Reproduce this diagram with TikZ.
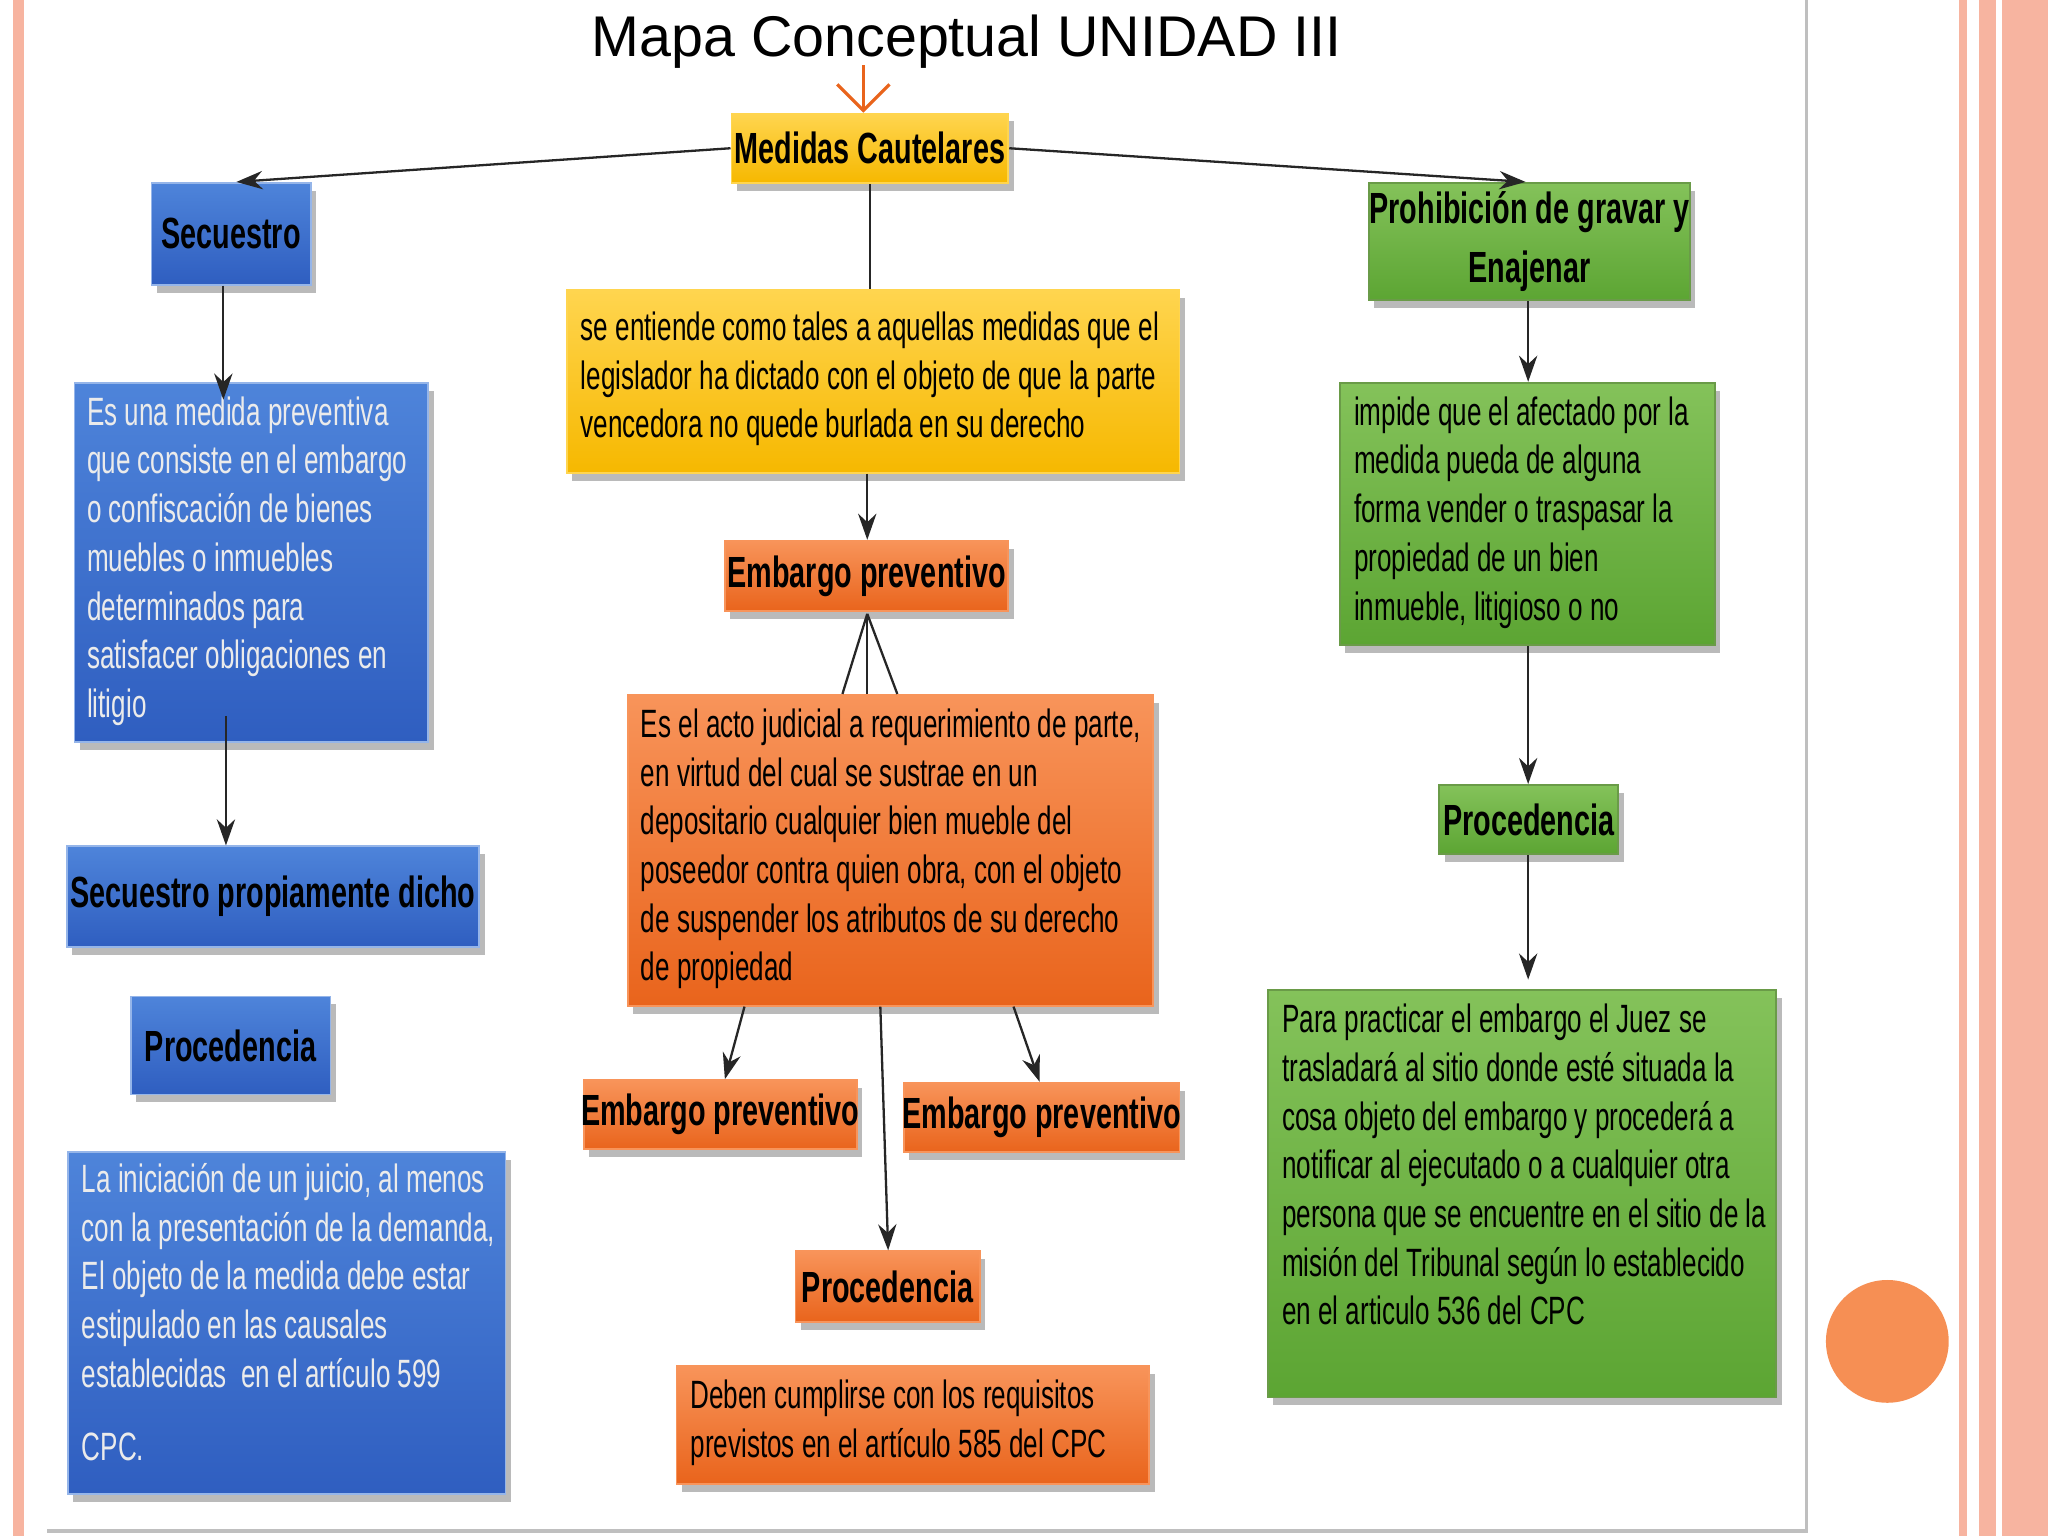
\documentclass[tikz,border=0pt]{standalone}
\usepackage{fontspec}
\setmainfont{Liberation Sans}
\newfontfamily\narrow[FakeStretch=0.66]{Liberation Sans}
\usetikzlibrary{shadows,arrows.meta}
\definecolor{bluA}{HTML}{4E84DA}\definecolor{bluB}{HTML}{2F5EC0}
\definecolor{yelA}{HTML}{FFD54F}\definecolor{yelB}{HTML}{F6B800}
\definecolor{orA}{HTML}{F8945A}\definecolor{orB}{HTML}{E9641C}
\definecolor{grA}{HTML}{84C25A}\definecolor{grB}{HTML}{5CA533}
\definecolor{pinkS}{HTML}{F7B4A0}
\tikzset{
 bx/.style={inner sep=0pt,drop shadow={shadow xshift=0.4mm,shadow yshift=-0.6mm,fill=black!45,opacity=0.6}},
 bl/.style={bx,top color=bluA,bottom color=bluB,draw=bluA!60},
 ye/.style={bx,top color=yelA,bottom color=yelB,draw=yelA},
 orr/.style={bx,top color=orA,bottom color=orB,draw=orA},
 gr/.style={bx,top color=grA,bottom color=grB,draw=grA!80!black},
 ttl/.style={font=\narrow\bfseries\fontsize{9.5}{13}\selectfont,align=center},
 txt/.style={font=\narrow\fontsize{8.6}{10.6}\selectfont,align=left,anchor=north west,inner sep=0pt},
 ar/.style={-{Stealth[length=2mm,width=1.4mm]},black!85,line width=0.5pt},
 ln/.style={black!85,line width=0.5pt}
}
\newcommand{\bxn}[6]{\node[#1,minimum width=#4*0.01cm-#2*0.01cm,minimum height=#5*0.01cm-#3*0.01cm] (#6) at ({(#2+#4)/2},{(#3+#5)/2}) {};}
\begin{document}
\begin{tikzpicture}[x=0.01cm,y=-0.01cm]
\useasboundingbox (0,0) rectangle (1568,1176);
\fill[white] (0,0) rectangle (1568,1176);
% decoration
\fill[pinkS] (10,0) rectangle (18,1176);
\fill[pinkS] (1500,0) rectangle (1506,1176);
\fill[pinkS] (1515,0) rectangle (1568,1176);
\fill[white] (1528,0) rectangle (1533,1176);
\draw[black!25,line width=0.8pt] (1383,0) -- (1383,1172) -- (36,1172);
\node[circle,fill=orange!80!red!90,fill=orA!90!orB,minimum size=94*0.01cm,inner sep=0pt] (circ) at (1445,1027) {};
% title
\node[font=\fontsize{12.5}{14}\selectfont] (title) at (740,32) {Mapa Conceptual UNIDAD III};
\coordinate (tarr) at (661,50);
% boxes
\bxn{ye}{560}{87}{772}{140}{med}\node[ttl] at (med) {Medidas Cautelares};
\bxn{bl}{116}{140}{238}{218}{sec}\node[ttl] at (sec) {Secuestro};
\bxn{gr}{1048}{140}{1294}{230}{pro}\node[ttl] at (pro) {Prohibición de gravar y\\Enajenar};
\bxn{ye}{434}{222}{903}{362}{ytx}
\node[txt] at (444,238) {se entiende como tales a aquellas medidas que el\\legislador ha dictado con el objeto de que la parte\\vencedora no quede burlada en su derecho};
\bxn{bl}{57}{293}{328}{568}{btx}
\node[txt,text=white!92!black] at (66,303) {Es una medida preventiva\\que consiste en el embargo\\o confiscación de bienes\\muebles o inmuebles\\determinados para\\satisfacer obligaciones en\\litigio};
\bxn{orr}{555}{414}{772}{468}{emb}\node[ttl] at (emb) {Embargo preventivo};
\bxn{gr}{1026}{293}{1313}{494}{gtx}
\node[txt] at (1036,303) {impide que el afectado por la\\medida pueda de alguna\\forma vender o traspasar la\\propiedad de un bien\\inmueble, litigioso o no};
\bxn{orr}{481}{532}{883}{770}{otx}
\node[txt] at (490,542) {Es el acto judicial a requerimiento de parte,\\en virtud del cual se sustrae en un\\depositario cualquier bien mueble del\\poseedor contra quien obra, con el objeto\\de suspender los atributos de su derecho\\de propiedad};
\bxn{bl}{51}{648}{367}{725}{spd}\node[ttl] at (spd) {Secuestro propiamente dicho};
\bxn{bl}{100}{763}{253}{838}{prb}\node[ttl] at (prb) {Procedencia};
\bxn{gr}{1102}{601}{1239}{654}{prg}\node[ttl] at (prg) {Procedencia};
\bxn{gr}{971}{758}{1360}{1070}{gtx2}
\node[txt] at (981,768) {Para practicar el embargo el Juez se\\trasladará al sitio donde esté situada la\\cosa objeto del embargo y procederá a\\notificar al ejecutado o a cualquier otra\\persona que se encuentre en el sitio de la\\misión del Tribunal según lo establecido\\en el articulo 536 del CPC};
\bxn{orr}{447}{827}{656}{880}{embl}\node[ttl] at (embl) {Embargo preventivo};
\bxn{orr}{692}{829}{903}{882}{embr}\node[ttl] at (embr) {Embargo preventivo};
\bxn{orr}{609}{958}{750}{1012}{pro2}\node[ttl] at (pro2) {Procedencia};
\bxn{orr}{518}{1046}{880}{1136}{otx2}
\node[txt] at (528,1056) {Deben cumplirse con los requisitos\\previstos en el artículo 585 del CPC};
\bxn{bl}{52}{882}{387}{1144}{btx2}
\node[txt,text=white!92!black] at (62,890) {La iniciación de un juicio, al menos\\con la presentación de la demanda,\\El objeto de la medida debe estar\\estipulado en las causales\\establecidas \ en el artículo 599\\[1.2ex]CPC.};
% connectors
\draw[-{Straight Barb[length=2mm]},orB,line width=0.7pt] (tarr) -- (med.north -| tarr);
\draw[ar] (med.west) -- (sec.north -| 181,0);
\draw[ar] (med.east) -- (pro.north -| 1168,0);
\draw[ln] (med.south -| 666,0) -- (ytx.north -| 666,0);
\draw[ar] (ytx.south -| 664,0) -- (emb.north -| 664,0);
\draw[ar] (sec.south -| 171,0) -- (171,306);
\draw[ar] (173,548) -- (spd.north -| 173,0);
\draw[ln] (664,470) -- (otx.north -| 645,0);
\draw[ln] (664,470) -- (otx.north -| 687,0);
\draw[ln] (664,470) -- (otx.north -| 664,0);
\draw[ar] (otx.south -| 570,0) -- (embl.north -| 555,0);
\draw[ar] (otx.south -| 776,0) -- (embr.north -| 796,0);
\draw[ar] (otx.south -| 674,0) -- (pro2.north -| 680,0);
\draw[ar] (pro.south -| 1170,0) -- (gtx.north -| 1170,0);
\draw[ar] (gtx.south -| 1170,0) -- (prg.north -| 1170,0);
\draw[ar] (prg.south -| 1170,0) -- (1170,750);
\end{tikzpicture}
\end{document}
